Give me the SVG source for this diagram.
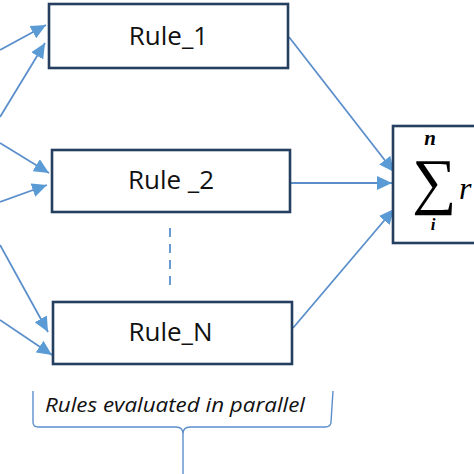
<svg xmlns="http://www.w3.org/2000/svg" width="474" height="474" viewBox="0 0 474 474">
<style>
.box{fill:#fff;stroke:#243f60;stroke-width:2.6}
.lbl{font-family:"Open Sans","Liberation Sans",sans-serif;font-size:26px;fill:#111;text-anchor:middle}
.con{stroke:#5b8fcb;stroke-width:1.8;fill:none}
.math{font-family:"Liberation Serif","DejaVu Serif",serif;fill:#000}
</style>
<defs>
<marker id="ah" markerUnits="userSpaceOnUse" markerWidth="16" markerHeight="14" refX="15" refY="7" orient="auto">
<path d="M0,0 L15,7 L0,14 Z" fill="#5b9bd5"/>
</marker>
</defs>
<rect width="474" height="474" fill="#fff"/>
<g id="connectors">
<line class="con" x1="0" y1="50" x2="46" y2="25" marker-end="url(#ah)"/>
<line class="con" x1="0" y1="117" x2="45" y2="43" marker-end="url(#ah)"/>
<line class="con" x1="0" y1="143" x2="49" y2="173" marker-end="url(#ah)"/>
<line class="con" x1="0" y1="202" x2="47" y2="185" marker-end="url(#ah)"/>
<line class="con" x1="0" y1="245" x2="48" y2="332" marker-end="url(#ah)"/>
<line class="con" x1="0" y1="320" x2="52" y2="355" marker-end="url(#ah)"/>
<line class="con" x1="289" y1="37" x2="394" y2="172" marker-end="url(#ah)"/>
<line class="con" x1="291" y1="183" x2="392" y2="183" marker-end="url(#ah)"/>
<line class="con" x1="293" y1="328" x2="394" y2="209" marker-end="url(#ah)"/>
<line class="con" x1="170" y1="228" x2="170" y2="291" stroke-dasharray="9,7" stroke-width="2"/>
</g>
<g id="rule1">
<rect class="box" x="49" y="4" width="239" height="64"/>
<text class="lbl" x="168.5" y="45">Rule_1</text>
</g>
<g id="rule2">
<rect class="box" x="52" y="150" width="238" height="62"/>
<text class="lbl" x="171" y="189">Rule _2</text>
</g>
<g id="ruleN">
<rect class="box" x="53" y="302" width="239" height="62"/>
<text class="lbl" x="170.5" y="341">Rule_N</text>
</g>
<g id="sum">
<rect class="box" x="393" y="126" width="100" height="117"/>
<text class="math" x="434" y="202" font-size="62" text-anchor="middle">∑</text>
<text class="math" x="430" y="145" font-size="21" font-style="italic" font-weight="bold" text-anchor="middle">n</text>
<text class="math" x="433" y="230" font-size="17" font-style="italic" font-weight="bold" text-anchor="middle">i</text>
<text class="math" x="459" y="199" font-size="32" font-style="italic">r</text>
</g>
<g id="brace">
<path d="M33,391 L33,422 Q33,427 38,427 L176,427 Q183,427 183,434 L183,474 M183,434 Q183,427 190,427 L325,427 Q331,427 331,422 L333,391" fill="none" stroke="#5b8fcb" stroke-width="1.4"/>
<text x="45" y="412" font-family="'Open Sans','Liberation Sans',sans-serif" font-style="italic" font-size="20" fill="#111" textLength="260" lengthAdjust="spacingAndGlyphs">Rules evaluated in parallel</text>
</g>
</svg>
